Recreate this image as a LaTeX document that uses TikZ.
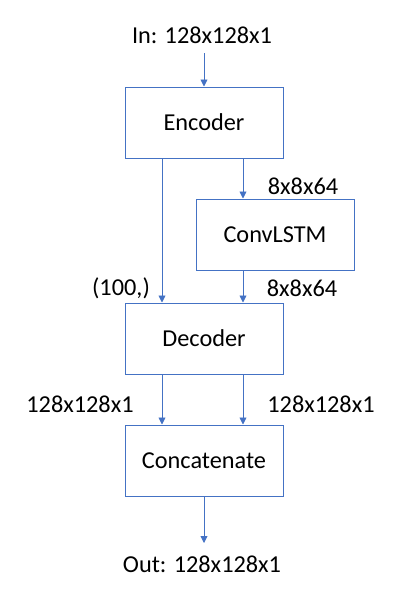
\documentclass[tikz,border=0pt]{standalone}
\usepackage{fontspec}
\setmainfont{Carlito}
\usetikzlibrary{arrows.meta}
\definecolor{lineblue}{HTML}{4472C4}
\begin{document}
\begin{tikzpicture}[x=1pt,y=-1pt,
  font=\fontsize{24.3}{29}\selectfont,
  blockbox/.style={draw=lineblue,line width=1pt,minimum width=158pt,minimum height=71pt,inner sep=0pt},
  lbl/.style={anchor=base,inner sep=0pt},
  conn/.style={draw=lineblue,line width=0.9pt,-{Triangle[width=7pt,length=7pt]}}]
\useasboundingbox (0,0) rectangle (416,600);
\node[blockbox] (enc) at (204,122.5) {Encoder};
\node[blockbox] (conv) at (275,234.5) {ConvLSTM};
\node[blockbox] (dec) at (204,338.5) {Decoder};
\node[blockbox] (cat) at (204,460.5) {Concatenate};
\node[lbl] (in) at (202,43) {In: 128x128x1};
\node[lbl] (out) at (202,572) {Out: 128x128x1};
\node[lbl] (l1) at (303,194) {8x8x64};
\node[lbl] (l2) at (302,296) {8x8x64};
\node[lbl] (l3) at (121,295) {(100,)};
\node[lbl] (l4) at (80,412) {128x128x1};
\node[lbl] (l5) at (321,412) {128x128x1};
\coordinate (inend) at (204,53);
\coordinate (outend) at (204,543);
\draw[conn] (inend) -- (enc.north);
\draw[conn] ([xshift=-42pt]enc.south) -- ([xshift=-42pt]dec.north);
\draw[conn] ([xshift=39pt]enc.south) -- ([xshift=-32pt]conv.north);
\draw[conn] ([xshift=-32pt]conv.south) -- ([xshift=39pt]dec.north);
\draw[conn] ([xshift=-42pt]dec.south) -- ([xshift=-42pt]cat.north);
\draw[conn] ([xshift=39pt]dec.south) -- ([xshift=39pt]cat.north);
\draw[conn] (cat.south) -- (outend);
\end{tikzpicture}
\end{document}
